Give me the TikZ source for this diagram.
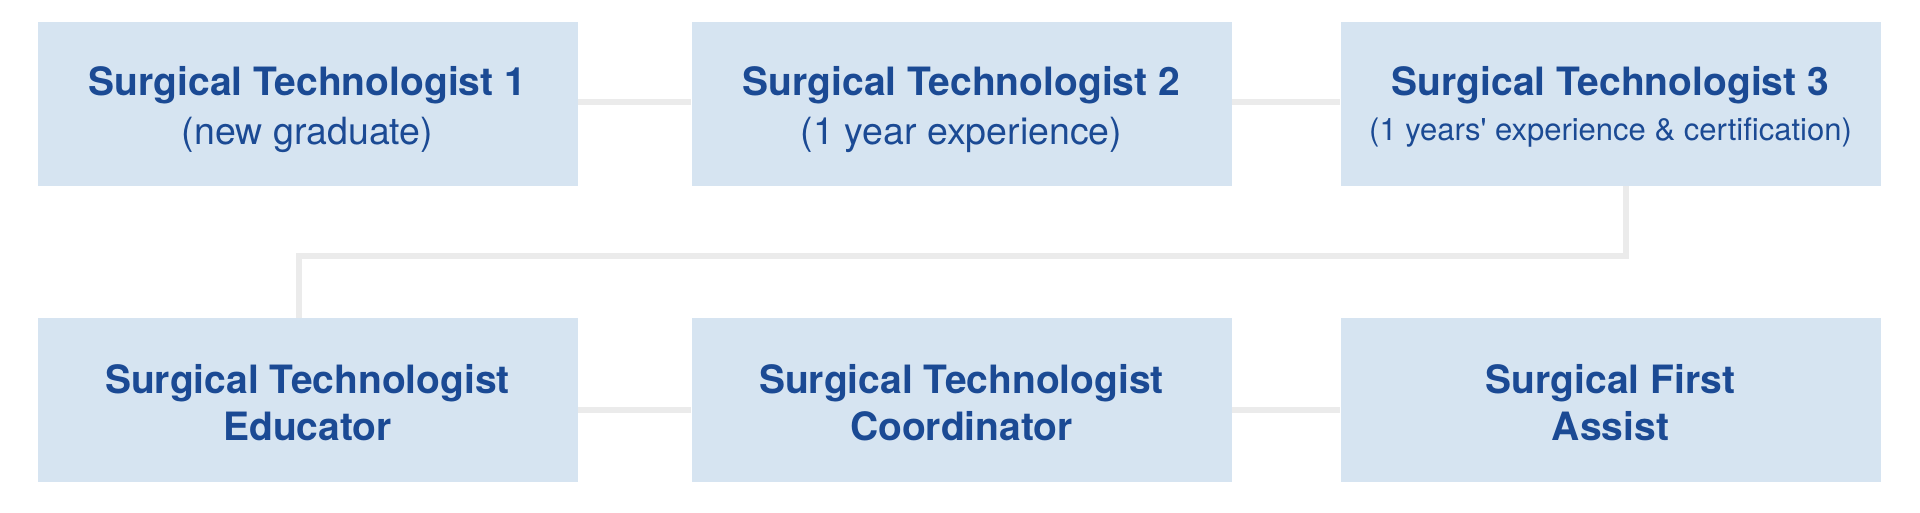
\documentclass[tikz,border=0pt]{standalone}
\usepackage{fontspec}
\setmainfont{TeX Gyre Heros}
\newfontfamily\heroplain[Ligatures=TeXOff]{TeX Gyre Heros}
\usetikzlibrary{backgrounds}
\definecolor{boxfill}{HTML}{D6E4F1}
\definecolor{txtblue}{HTML}{1B4A94}
\definecolor{linegray}{HTML}{EBEBEB}
\tikzset{
  stbox/.style={rectangle, fill=boxfill, draw=none, minimum width=540pt, minimum height=164pt, inner sep=0pt},
  ttl/.style={anchor=base, inner sep=0pt, text=txtblue, font=\fontsize{39}{47}\selectfont\bfseries},
  sub/.style={anchor=base, inner sep=0pt, text=txtblue, font=\fontsize{37.5}{45}\selectfont},
  subsmall/.style={anchor=base, inner sep=0pt, text=txtblue, font=\heroplain\fontsize{31}{37}\selectfont},
  conn/.style={draw=linegray, line width=6pt}
}
\begin{document}
\begin{tikzpicture}[x=1pt,y=-1pt]
\useasboundingbox (0,0) rectangle (1920,512);
% boxes
\node[stbox] (b1) at (307.5,104) {};
\node[stbox] (b2) at (961.5,104) {};
\node[stbox] (b3) at (1610.5,104) {};
\node[stbox] (b4) at (307.5,400) {};
\node[stbox] (b5) at (961.5,400) {};
\node[stbox] (b6) at (1610.5,400) {};
% texts
\node[ttl] (t1) at ([yshift=9pt]b1.center) {Surgical Technologist 1};
\node[sub] (s1) at ([yshift=-40pt]b1.center) {(new graduate)};
\node[ttl] (t2) at ([yshift=9pt]b2.center) {Surgical Technologist 2};
\node[sub] (s2) at ([yshift=-40pt]b2.center) {(1 year experience)};
\node[ttl] (t3) at ([yshift=9pt]b3.center) {Surgical Technologist 3};
\node[subsmall] (s3) at ([yshift=-36pt]b3.center) {(1 years' experience \& certification)};
\node[ttl] (t4) at ([yshift=7pt]b4.center) {Surgical Technologist};
\node[ttl] (u4) at ([yshift=-40pt]b4.center) {Educator};
\node[ttl] (t5) at ([yshift=7pt]b5.center) {Surgical Technologist};
\node[ttl] (u5) at ([yshift=-40pt]b5.center) {Coordinator};
\node[ttl] (t6) at ([yshift=7pt]b6.center) {Surgical First};
\node[ttl] (u6) at ([yshift=-40pt]b6.center) {Assist};
% connectors
\begin{scope}[on background layer]
\draw[conn] ([yshift=2pt]b1.east) -- ([yshift=2pt]b2.west);
\draw[conn] ([yshift=2pt]b2.east) -- ([yshift=2pt]b3.west);
\draw[conn] ([xshift=15pt]b3.south) -- ++(0,70) -| ([xshift=-8.5pt]b4.north);
\draw[conn] ([yshift=-10pt]b4.east) -- ([yshift=-10pt]b5.west);
\draw[conn] ([yshift=-10pt]b5.east) -- ([yshift=-10pt]b6.west);
\end{scope}
\end{tikzpicture}
\end{document}
